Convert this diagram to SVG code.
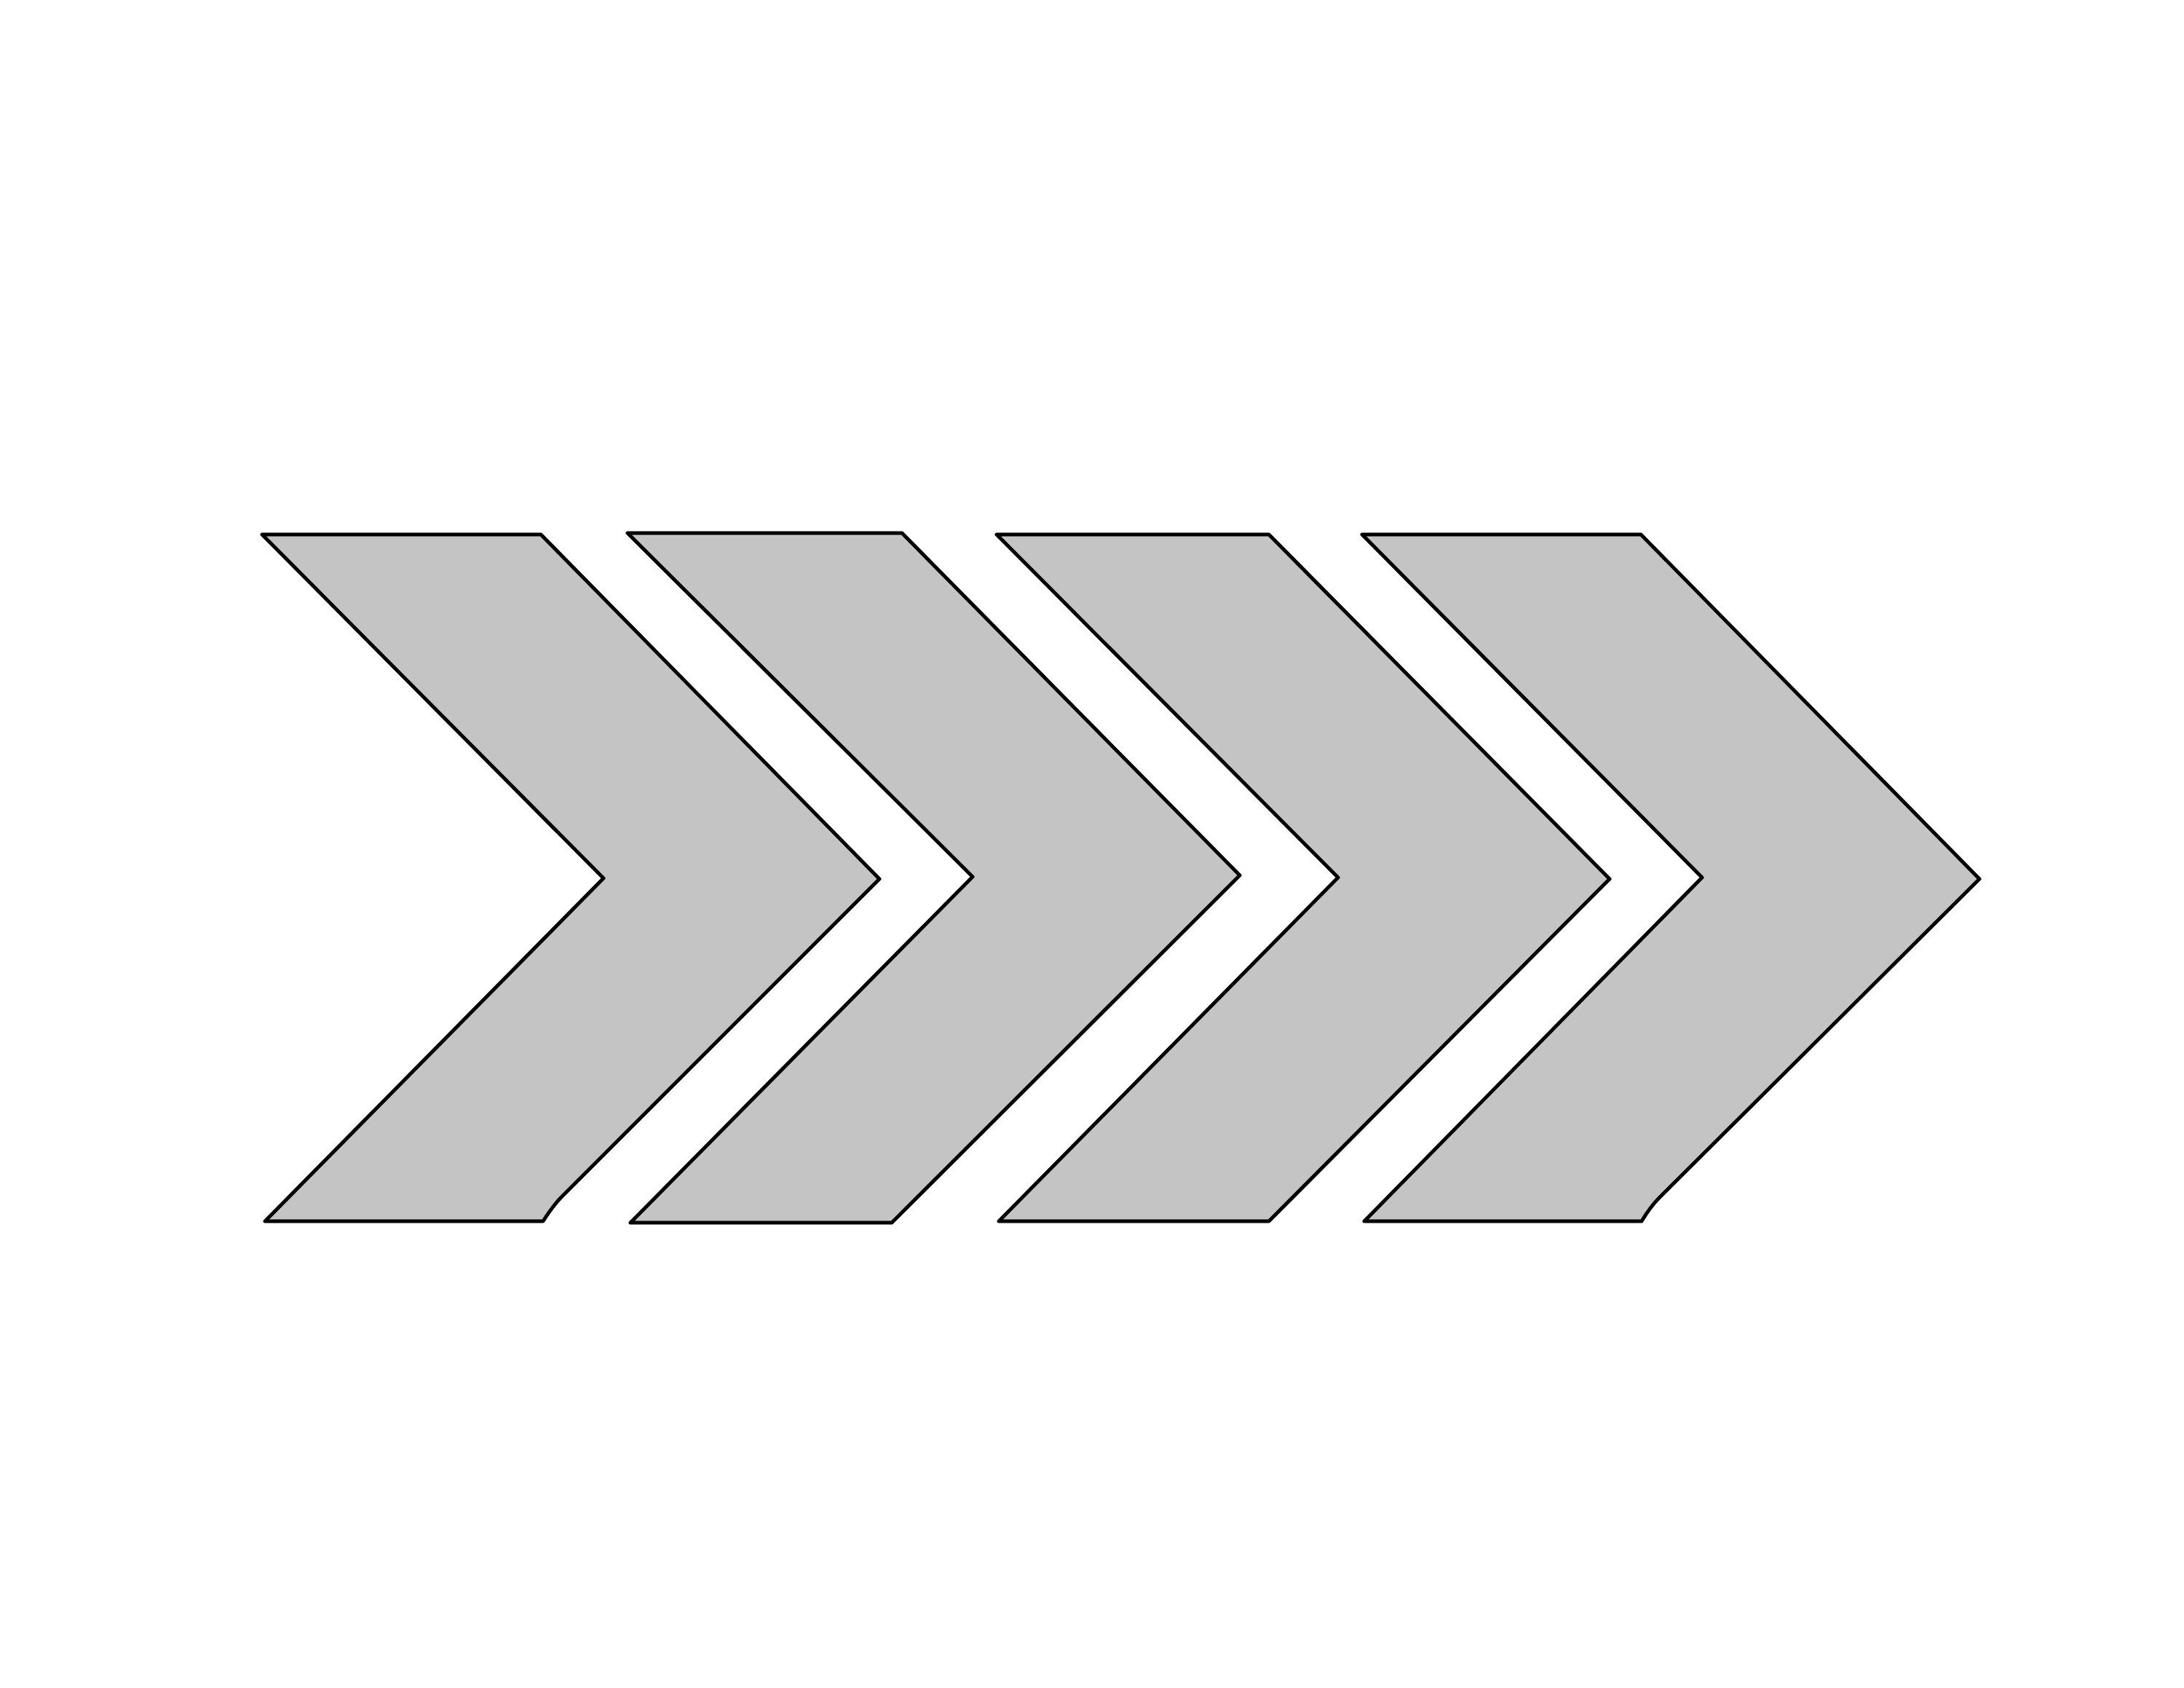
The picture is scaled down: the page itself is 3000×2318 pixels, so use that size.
<svg xmlns="http://www.w3.org/2000/svg" width="3000" height="2318" viewBox="0 0 3000 2318">
<style>
.chev{fill:#c4c4c4;stroke:#000;stroke-width:5;stroke-linejoin:round}
</style>
<rect width="3000" height="2318" fill="#fff"/>
<g id="chevron1"><path class="chev" d="M360 734 L743 734 L1208 1207 L772 1643 Q760 1655 746 1677 L364 1677 L829 1206 Z"/></g>
<g id="chevron2"><path class="chev" d="M862 732 L1239 732 L1703 1202 L1225 1679 L866 1679 L1336 1204 Z"/></g>
<g id="chevron3"><path class="chev" d="M1369 734 L1743 734 L2211 1207 L1743 1677 L1372 1677 L1838 1205 Z"/></g>
<g id="chevron4"><path class="chev" d="M1871 734 L2254 734 L2719 1207 L2279 1645 Q2267 1657 2255 1677 L1874 1677 L2338 1205 Z"/></g>
<g id="connectors"></g>
</svg>
